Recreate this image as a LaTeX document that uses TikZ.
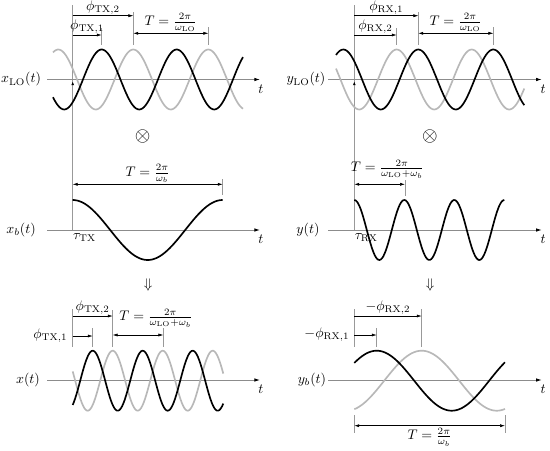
\documentclass[tikz,border=0pt]{standalone}
\usepackage{amsmath}
\usepackage{amssymb}
\usepackage{tikz}
\usetikzlibrary{arrows.meta}

\begin{document}
\begin{tikzpicture}[x=0.72pt, y=-0.72pt,
    sig/.style = {black, line width=1.2pt},
    ref/.style = {black!28, line width=1.2pt},
    axis/.style = {black!45, line width=0.6pt, -{Latex[color=black, length=4pt, width=2.5pt]}},
    guide/.style = {black!40, line width=0.6pt},
    dim/.style = {black, line width=0.4pt, {Latex[length=3.5pt, width=2.2pt]}-{Latex[length=3.5pt, width=2.2pt]}},
    dimr/.style = {black, line width=0.4pt, -{Latex[length=3.5pt, width=2.2pt]}},
    lbl/.style = {inner sep=1pt, anchor=south}]
        \useasboundingbox (0,0) rectangle (550,450);
        % left column, top: x_LO
        \coordinate (ltop) at (72.7,5);
        \coordinate (lbot) at (72.7,230);
        \draw[guide] (ltop) -- (lbot);
        \draw[axis] (47,79.5) -- (260,79.5) coordinate (tA);
        \node at (261,89) (t1) {$t$};
        \node at (21,79.5) (xlo) {$x_{\mathrm{LO}}(t)$};
        \draw[guide, -{Latex[color=black, length=3pt, width=2pt]}] (72.7,90) -- (72.7,81);
        \draw[ref] plot[domain=53:243, samples=120] (\x, {79.5-30*cos(4.8*(\x-133.3))});
        \draw[sig] plot[domain=53:243, samples=120] (\x, {79.5-30*cos(4.8*(\x-101.7))});
        \draw[guide] (101.7,28) -- (101.7,45);
        \draw[guide] (133.3,12) -- (133.3,45);
        \draw[guide] (208.3,27) -- (208.3,45);
        \draw[dimr] (72.7,15.7) -- (133.3,15.7) node[lbl, midway] (ptx2) {$\phi_{\mathrm{TX},2}$};
        \draw[dimr] (72.7,35) -- (101.7,35) node[lbl, midway] (ptx1) {$\phi_{\mathrm{TX},1}$};
        \draw[dim] (133.3,33.3) -- (208.3,33.3) node[lbl, midway] (Tlo1) {$T=\frac{2\pi}{\omega_{\mathrm{LO}}}$};
        \node at (142.7,136) (mix1) {\Large$\otimes$};
        % left column, middle: x_b
        \draw[axis] (47,230) -- (260,230);
        \node at (261,239) (t2) {$t$};
        \node at (21,230) (xb) {$x_b(t)$};
        \node[anchor=north west, inner sep=1pt] at (71.5,232) (tautx) {$\tau_{\mathrm{TX}}$};
        \draw[guide] (222.7,179) -- (222.7,195);
        \draw[dim] (72.7,184.3) -- (222.7,184.3) node[lbl, midway] (Tb1) {$T=\frac{2\pi}{\omega_b}$};
        \draw[sig] plot[domain=72.7:222.7, samples=80] (\x, {230-30*cos(2.4*(\x-72.7))});
        \node at (148,285) (down1) {$\Downarrow$};
        % left column, bottom: x
        \draw[axis] (47,380) -- (260,380);
        \node at (261,389) (t3) {$t$};
        \node at (28,380) (xx) {$x(t)$};
        \draw[ref] plot[domain=72.7:223.3, samples=120] (\x, {380.7-30*cos(7.2*(\x-112.7))});
        \draw[sig] plot[domain=72.7:223.3, samples=120] (\x, {380.7-30*cos(7.2*(\x-92.7))});
        \draw[guide] (72.7,309) -- (72.7,346.7);
        \draw[guide] (92.7,328) -- (92.7,346.7);
        \draw[guide] (112.7,310) -- (112.7,346.7);
        \draw[guide] (163.3,328) -- (163.3,346.7);
        \draw[dimr] (72.7,316) -- (112.7,316) node[lbl, midway] (ptx2b) {$\phi_{\mathrm{TX},2}$};
        \draw[dimr] (72.7,336) -- (92.7,336);
        \node[anchor=east, inner sep=1pt] at (69,336) (ptx1b) {$\phi_{\mathrm{TX},1}$};
        \draw[dim] (112.7,335) -- (163.3,335);
        \node at (156,318) (Tsum1) {$T=\frac{2\pi}{\omega_{\mathrm{LO}}+\omega_b}$};
        % right column, top: y_LO
        \coordinate (rtop) at (354.3,5);
        \coordinate (rbot) at (354.3,230);
        \draw[guide] (rtop) -- (rbot);
        \draw[axis] (328.3,79.5) -- (541.7,79.5);
        \node at (543,89) (t4) {$t$};
        \node at (306,79.5) (ylo) {$y_{\mathrm{LO}}(t)$};
        \draw[guide, -{Latex[color=black, length=3pt, width=2pt]}] (354.3,90) -- (354.3,81);
        \draw[ref] plot[domain=336:524.3, samples=120] (\x, {79.5-30*cos(4.8*(\x-396.7))});
        \draw[sig] plot[domain=336:524.3, samples=120] (\x, {79.5-30*cos(4.8*(\x-418.3))});
        \draw[guide] (418.3,12) -- (418.3,45);
        \draw[guide] (396.7,28) -- (396.7,45);
        \draw[guide] (493.3,27) -- (493.3,45);
        \draw[dimr] (354.3,15.7) -- (418.3,15.7) node[lbl, midway] (prx1) {$\phi_{\mathrm{RX},1}$};
        \draw[dimr] (354.3,35) -- (396.7,35) node[lbl, midway] (prx2) {$\phi_{\mathrm{RX},2}$};
        \draw[dim] (418.3,33.3) -- (493.3,33.3) node[lbl, midway] (Tlo2) {$T=\frac{2\pi}{\omega_{\mathrm{LO}}}$};
        \node at (430,136) (mix2) {\Large$\otimes$};
        % right column, middle: y
        \draw[axis] (328.3,230) -- (541.7,230);
        \node at (543,239) (t5) {$t$};
        \node at (308,230) (yy) {$y(t)$};
        \node[anchor=north west, inner sep=1pt] at (353.1,232) (taurx) {$\tau_{\mathrm{RX}}$};
        \draw[guide] (405,180) -- (405,196);
        \draw[dim] (354.3,184.3) -- (405,184.3);
        \node at (387.5,169) (Tsum2) {$T=\frac{2\pi}{\omega_{\mathrm{LO}}+\omega_b}$};
        \draw[sig] plot[domain=354.3:504.3, samples=120] (\x, {230-30*cos(7.2*(\x-354.3))});
        \node at (430,285) (down2) {$\Downarrow$};
        % right column, bottom: y_b
        \draw[axis] (328.3,380) -- (541.7,380);
        \node at (543,389) (t6) {$t$};
        \node at (312,380) (yb) {$y_b(t)$};
        \draw[ref] plot[domain=354.3:505, samples=100] (\x, {380.7-30*cos(2.4*(\x-421.7))});
        \draw[sig] plot[domain=354.3:505, samples=100] (\x, {380.7-30*cos(2.4*(\x-376.7))});
        \draw[guide] (354.3,309) -- (354.3,346.7);
        \draw[guide] (376.7,328) -- (376.7,346.7);
        \draw[guide] (421.7,309) -- (421.7,346.7);
        \draw[guide] (354.3,415) -- (354.3,433);
        \draw[guide] (505,415) -- (505,433);
        \draw[dimr] (354.3,316) -- (421.7,316) node[lbl, midway] (mprx2) {$-\phi_{\mathrm{RX},2}$};
        \draw[dimr] (354.3,335) -- (376.7,335);
        \node[anchor=east, inner sep=1pt] at (351,335) (mprx1) {$-\phi_{\mathrm{RX},1}$};
        \draw[dim] (354.3,425.7) -- (505,425.7) node[midway, below, inner sep=1.5pt] (Tb2) {$T=\frac{2\pi}{\omega_b}$};
\end{tikzpicture}
\end{document}
